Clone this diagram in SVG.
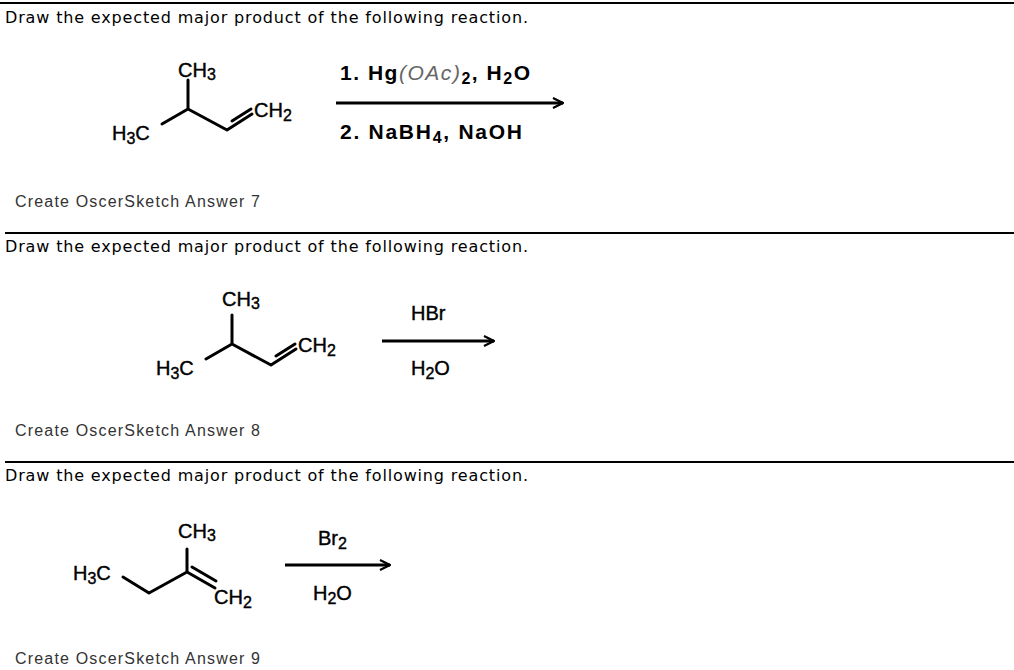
<svg xmlns="http://www.w3.org/2000/svg" width="1014" height="670" viewBox="0 0 1014 670">
<defs>
<marker id="ah" viewBox="0 0 12 12" refX="11" refY="6" markerWidth="12" markerHeight="12" markerUnits="userSpaceOnUse" orient="auto"><path d="M1,1 L11,6 L1,11" fill="none" stroke="#000" stroke-width="2.2"/></marker>
</defs>
<style>
.h{font-family:"DejaVu Sans",Verdana,sans-serif;font-size:16px;fill:#000}
.c{font-family:"Liberation Sans",Arial,sans-serif;font-size:16px;fill:#333}
.m{font-family:"Liberation Sans",Arial,sans-serif;font-size:20px;fill:#000;stroke:#000;stroke-width:0.4}
.r{font-family:"Liberation Sans",Arial,sans-serif;font-size:21px;fill:#000;font-weight:bold}
.s{font-size:16px}
.b{stroke:#000;stroke-width:3;fill:none;stroke-linecap:round;stroke-linejoin:round}
.rule{stroke:#000;stroke-width:2}
.ar{stroke:#000;stroke-width:3;marker-end:url(#ah)}
</style>
<rect width="1014" height="670" fill="#fff"/>
<line class="rule" x1="0" y1="3" x2="1014" y2="3"/>
<line class="rule" x1="5" y1="233" x2="1014" y2="233"/>
<line class="rule" x1="5" y1="462" x2="1014" y2="462"/>
<text class="h" x="5" y="23" textLength="523">Draw the expected major product of the following reaction.</text>
<text class="h" x="5" y="252" textLength="523">Draw the expected major product of the following reaction.</text>
<text class="h" x="5" y="481" textLength="523">Draw the expected major product of the following reaction.</text>
<text class="c" x="15" y="207" textLength="245">Create OscerSketch Answer 7</text>
<text class="c" x="15" y="436" textLength="245">Create OscerSketch Answer 8</text>
<text class="c" x="15" y="664" textLength="245">Create OscerSketch Answer 9</text>
<g id="mol1">
<path class="b" d="M162,124 L188,109 L227,130 L252,114 M188,109 L188,80 M232,121 L251,109"/>
<text class="m" x="178" y="77">CH<tspan class="s" dy="3">3</tspan></text>
<text class="m" x="254" y="117">CH<tspan class="s" dy="4">2</tspan></text>
<text class="m" x="112" y="140">H<tspan class="s" dy="4">3</tspan><tspan dy="-4">C</tspan></text>
</g>
<g id="mol2">
<path class="b" d="M206,359 L232,344 L271,365 L296,349 M232,344 L232,315 M276,356 L295,344"/>
<text class="m" x="222" y="306">CH<tspan class="s" dy="3">3</tspan></text>
<text class="m" x="298" y="352">CH<tspan class="s" dy="4">2</tspan></text>
<text class="m" x="156" y="375">H<tspan class="s" dy="4">3</tspan><tspan dy="-4">C</tspan></text>
</g>
<g id="mol3">
<path class="b" d="M123,577 L149,593 L187,572 L215,588 M187,572 L187,549 M192,567 L216,581"/>
<text class="m" x="178" y="538">CH<tspan class="s" dy="3">3</tspan></text>
<text class="m" x="214" y="604">CH<tspan class="s" dy="4">2</tspan></text>
<text class="m" x="73" y="580">H<tspan class="s" dy="4">3</tspan><tspan dy="-4">C</tspan></text>
</g>
<g id="connectors">
<line class="ar" x1="336" y1="103" x2="563" y2="103"/>
<line class="ar" x1="382" y1="341" x2="494" y2="341"/>
<line class="ar" x1="285" y1="565" x2="390" y2="565"/>
</g>
<g id="reagents">
<text class="r" x="340" y="80" textLength="190">1. Hg<tspan fill="#666" font-style="italic" font-weight="normal">(OAc)</tspan><tspan class="s" dy="4">2</tspan><tspan dy="-4">, H</tspan><tspan class="s" dy="4">2</tspan><tspan dy="-4">O</tspan></text>
<text class="r" x="340" y="139" textLength="182">2. NaBH<tspan class="s" dy="4">4</tspan><tspan dy="-4">, NaOH</tspan></text>
<text class="m" x="411" y="320">HBr</text>
<text class="m" x="411" y="375">H<tspan class="s" dy="4">2</tspan><tspan dy="-4">O</tspan></text>
<text class="m" x="318" y="545">Br<tspan class="s" dy="4">2</tspan></text>
<text class="m" x="313" y="600">H<tspan class="s" dy="4">2</tspan><tspan dy="-4">O</tspan></text>
</g>
</svg>
